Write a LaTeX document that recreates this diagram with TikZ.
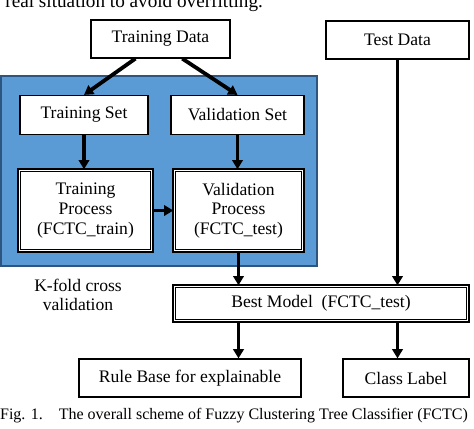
\documentclass[tikz,border=0pt]{standalone}
\usepackage{fontspec}
\setmainfont{Liberation Serif}
\usetikzlibrary{arrows.meta}
\usetikzlibrary{calc}
\usetikzlibrary{positioning}
\definecolor{foldblue}{RGB}{91,155,213}
\definecolor{foldedge}{RGB}{46,84,128}
\tikzset{
  box/.style={draw,line width=0.6pt,fill=white,inner sep=1pt,align=center},
  procbox/.style={draw,line width=0.8pt,double=white,double distance=0.5pt,fill=white,inner sep=1pt,align=center},
  flow/.style={->,line width=1.9pt},
}
\begin{document}
\begin{tikzpicture}[x=0.5pt,y=-0.5pt,line join=miter,>={Triangle[width=5.2pt,length=4.6pt]},font=\fontsize{8.8}{9.8}\selectfont]
        \useasboundingbox (0,0) rectangle (474,428);
        % line of the page above, cut off
        \node[anchor=base west,inner sep=0pt,font=\fontsize{9.6}{11}\selectfont] (prevline) at (5,7) {real situation to avoid overfitting.};
        % 
        \draw[fill=foldblue,draw=foldedge,line width=1pt] (1,76) rectangle (317,266);
        \node[align=center] (kfold) at (78,295) {K-fold cross\\validation};
        % 
        \node[box,minimum width=69.5pt,minimum height=19pt] (trdata) at (160.5,39) {Training Data};
        \node[box,minimum width=71.5pt,minimum height=19pt] (testdata) at (397.5,40) {Test Data};
        % 
        \node[box,minimum width=64pt,minimum height=19.5pt] (trset) at (84,115) {Training Set};
        \node[box,minimum width=66.5pt,minimum height=19.5pt] (valset) at (237.5,115) {Validation Set};
        % 
        \node[procbox,minimum width=66.4pt,minimum height=40.4pt] (trproc) at (85.5,210.5) {Training\\Process\\(FCTC\_train)};
        \node[procbox,minimum width=64.4pt,minimum height=40.4pt] (valproc) at (238.5,210.5) {Validation\\Process\\(FCTC\_test)};
        % 
        \node[procbox,minimum width=146.9pt,minimum height=17.4pt] (best) at (321,303.5) {Best Model\ \ (FCTC\_test)};
        % 
        \node[box,minimum width=111pt,minimum height=19pt] (rule) at (190,378) {Rule Base for explainable};
        \node[box,minimum width=63pt,minimum height=19pt] (classlab) at (406,378) {Class Label};
        % 
        \draw[flow] (trdata.218) -- (trset.north);
        \draw[flow] (trdata.318) -- (valset.north);
        \draw[flow] (trset.south) -- (trset.south |- trproc.north);
        \draw[flow] (valset.south) -- (valset.south |- valproc.north);
        \draw[flow] (trproc.east) -- (valproc.west);
        \draw[flow] (valproc.south) -- (valproc.south |- best.north);
        \draw[flow] (testdata.south) -- (testdata.south |- best.north);
        \draw[flow] (best.south -| valproc.south) -- (valproc.south |- rule.north);
        \draw[flow] (best.south -| testdata.south) -- (testdata.south |- classlab.north);
        % 
        \node[font=\fontsize{8}{9}\selectfont] (caption) at (234,416) {Fig. 1.\quad The overall scheme of Fuzzy Clustering Tree Classifier (FCTC)};
      \end{tikzpicture}
\end{document}
